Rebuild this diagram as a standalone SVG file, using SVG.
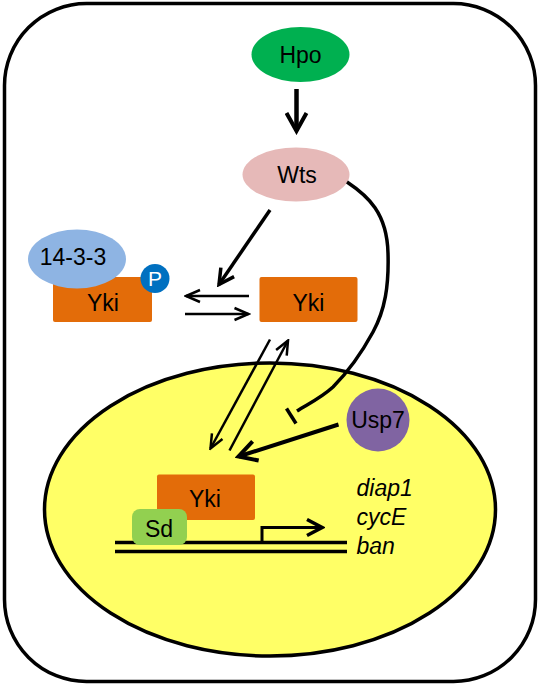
<svg xmlns="http://www.w3.org/2000/svg" width="539" height="685" viewBox="0 0 539 685">
<style>
text{font-family:"Liberation Sans",Arial,sans-serif;font-size:23px;fill:#000;text-anchor:middle}
.it{font-style:italic;text-anchor:start}
.ln{fill:none;stroke:#000;stroke-linecap:butt}
</style>
<defs>
<marker id="ah" markerUnits="userSpaceOnUse" viewBox="0 0 18 16" refX="16" refY="8" markerWidth="18" markerHeight="16" orient="auto">
<path d="M2,2 L16,8 L2,14" fill="none" stroke="#000" stroke-width="2.5"/>
</marker>
<marker id="ahm" markerUnits="userSpaceOnUse" viewBox="0 0 20 20" refX="17" refY="10" markerWidth="20" markerHeight="20" orient="auto">
<path d="M2,2 L17,10 L2,18" fill="none" stroke="#000" stroke-width="3.5"/>
</marker>
<marker id="ahb" markerUnits="userSpaceOnUse" viewBox="0 0 24 24" refX="20" refY="12" markerWidth="24" markerHeight="24" orient="auto">
<path d="M2,2 L20,12 L2,22" fill="none" stroke="#000" stroke-width="4"/>
</marker>
</defs>
<rect x="4.5" y="3.5" width="531" height="678" rx="82" ry="82" fill="#fff" stroke="#000" stroke-width="3.5"/>
<g id="nucleus"><ellipse cx="270" cy="509.5" rx="225.5" ry="146.5" fill="#ffff66" stroke="#000" stroke-width="3.5"/></g>
<g id="hpo"><ellipse cx="300.5" cy="54.5" rx="49" ry="27.5" fill="#00b050"/><text x="300.5" y="62.5">Hpo</text></g>
<g id="wts"><ellipse cx="296" cy="174.5" rx="53.5" ry="27" fill="#e6b9b8"/><text x="297" y="182.5">Wts</text></g>
<g id="yki-p"><rect x="53" y="277" width="99" height="45" rx="2" fill="#e36c09"/><text x="103" y="310.5">Yki</text></g>
<g id="n1433"><ellipse cx="77" cy="259" rx="49" ry="29.5" fill="#8eb4e3"/><text x="73" y="265">14-3-3</text></g>
<g id="p"><circle cx="155" cy="278.5" r="14.5" fill="#0070c0"/><text x="155" y="286" style="fill:#fff;font-size:21px">P</text></g>
<g id="yki-c"><rect x="259.5" y="277" width="98" height="45" rx="2" fill="#e36c09"/><text x="308.5" y="310.5">Yki</text></g>
<g id="dna">
<line class="ln" x1="115" y1="542.5" x2="347" y2="542.5" stroke-width="3.5"/>
<line class="ln" x1="115" y1="551.5" x2="347" y2="551.5" stroke-width="3.5"/>
</g>
<g id="yki-n"><rect x="157" y="474.5" width="98" height="45.5" rx="2" fill="#e36c09"/><text x="205" y="506.5">Yki</text></g>
<g id="sd"><rect x="132" y="509" width="55" height="36" rx="8" fill="#92d050"/><text x="159" y="536.5">Sd</text></g>
<g id="usp7"><circle cx="378" cy="420" r="31.5" fill="#8064a2"/><text x="378" y="428">Usp7</text></g>
<g id="genes">
<text class="it" x="356.5" y="496">diap1</text>
<text class="it" x="356.5" y="525">cycE</text>
<text class="it" x="356.5" y="553.5">ban</text>
</g>
<g id="connectors">
<line class="ln" x1="296.5" y1="89" x2="296.5" y2="131" stroke-width="4.5" marker-end="url(#ahb)"/>
<line class="ln" x1="270" y1="210" x2="219" y2="284.5" stroke-width="3.5" marker-end="url(#ahm)"/>
<line class="ln" x1="249" y1="296" x2="186" y2="296" stroke-width="2.5" marker-end="url(#ah)"/>
<line class="ln" x1="185" y1="314" x2="248.5" y2="314" stroke-width="2.5" marker-end="url(#ah)"/>
<line class="ln" x1="270" y1="339.5" x2="210.5" y2="448.5" stroke-width="2.5" marker-end="url(#ah)"/>
<line class="ln" x1="229.5" y1="450.5" x2="288" y2="340.5" stroke-width="2.5" marker-end="url(#ah)"/>
<line class="ln" x1="338.5" y1="424.5" x2="238.5" y2="456.5" stroke-width="4" marker-end="url(#ahb)"/>
<path class="ln" d="M262,542 L262,527.5 L322,527.5" stroke-width="3" marker-end="url(#ahm)"/>
<path class="ln" d="M347,182 C368,196 387,213 388,253 C389,286 385,310 373,332 C361,354 346,374 333,387 C321,398 308,404 297,411" stroke-width="3.5" stroke-linejoin="round"/>
<line class="ln" x1="286.5" y1="408.5" x2="296" y2="423.5" stroke-width="3.5"/>
</g>
</svg>
